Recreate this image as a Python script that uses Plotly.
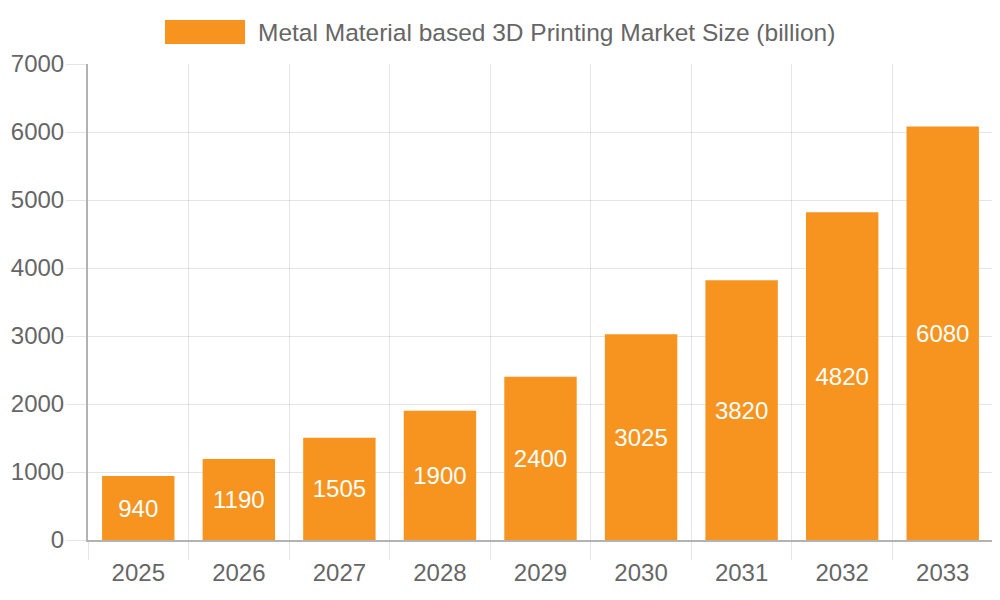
import plotly.graph_objects as go

years = ['2025', '2026', '2027', '2028', '2029', '2030', '2031', '2032', '2033']
market_size = [940, 1190, 1505, 1900, 2400, 3025, 3820, 4820, 6080]
series_name = 'Metal Material based 3D Printing Market Size (billion)'

bar_color = '#F7941F'
grid_color = 'rgba(0,0,0,0.1)'
axis_color = 'rgba(0,0,0,0.3)'
font = 'Liberation Sans, Arial, sans-serif'

fig = go.Figure()
fig.add_trace(go.Bar(
    x=years, y=market_size, name=series_name,
    marker=dict(color=bar_color, line=dict(width=0)),
    text=[str(v) for v in market_size],
    textposition='inside', insidetextanchor='middle',
    textfont=dict(color='white', size=24, family=font),
    showlegend=False,
))

# legend drawn by hand to get the wide chart.js style swatch
fig.add_shape(type='rect', xref='paper', yref='paper',
              xsizemode='pixel', ysizemode='pixel', xanchor=0, yanchor=1,
              x0=77, x1=157, y0=20, y1=44,
              fillcolor=bar_color, line=dict(width=0))
fig.add_annotation(text=series_name, xref='paper', yref='paper',
                   x=0.1856, y=1.0672, xanchor='left', yanchor='middle',
                   showarrow=False, font=dict(size=24.5, color='#666', family=font))

# page body adds ~8px offset, so margins are shifted to compensate
fig.update_layout(
    width=1000, height=600,
    margin=dict(l=80, r=15, t=56, b=68, autoexpand=False),
    paper_bgcolor='white', plot_bgcolor='white',
    bargap=0.28,
    font=dict(family=font, size=24, color='#666'),
)
fig.update_xaxes(
    type='category', tickson='boundaries', automargin=False,
    showgrid=True, gridcolor=grid_color, gridwidth=1,
    ticks='outside', ticklen=18, tickcolor=grid_color,
    ticklabelstandoff=10,
    showline=True, linecolor=axis_color, linewidth=2,
    tickfont=dict(size=24, color='#666'),
)
fig.update_yaxes(
    range=[0, 7000], dtick=1000, automargin=False,
    showgrid=True, gridcolor=grid_color, gridwidth=1,
    zeroline=False,
    ticks='outside', ticklen=20, tickcolor=grid_color,
    ticklabelstandoff=-3,
    showline=True, linecolor=axis_color, linewidth=2,
    tickfont=dict(size=24, color='#666'),
)

fig.write_html('out.html')
